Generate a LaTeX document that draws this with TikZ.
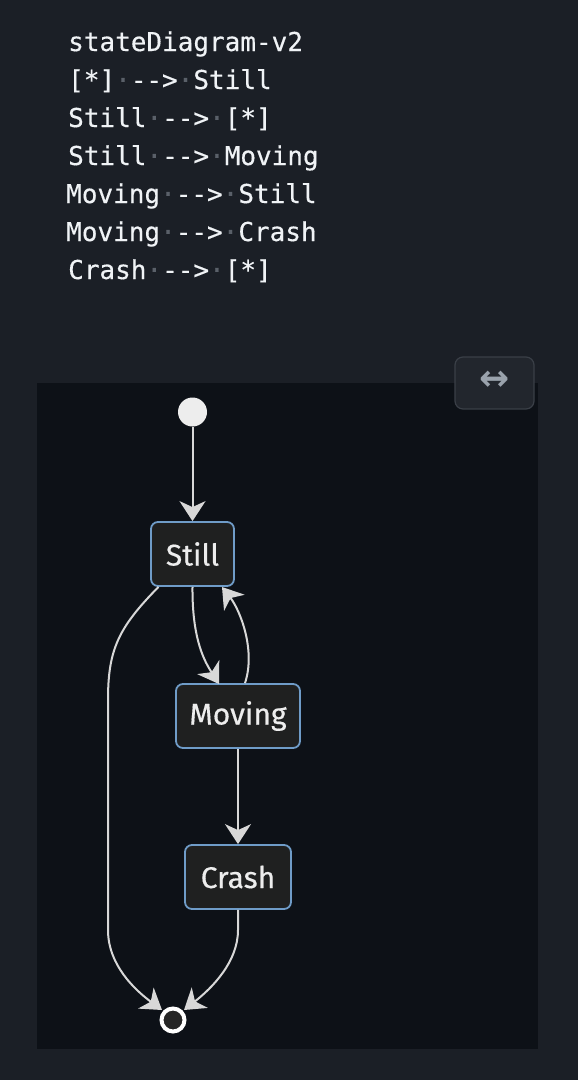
\documentclass[tikz,border=0pt]{standalone}
\usepackage{fontspec}
\usetikzlibrary{arrows.meta}
\newfontfamily\codefont[FakeBold=0.4]{DejaVu Sans Mono}
\newfontfamily\labelfont[FakeBold=0.4]{Fira Sans}
\newfontfamily\symfont{DejaVu Sans}
\definecolor{pagebg}{HTML}{1B1F26}
\definecolor{panelbg}{HTML}{0D1117}
\definecolor{btnbg}{HTML}{22262D}
\definecolor{btnline}{HTML}{3A3F47}
\definecolor{btnicon}{HTML}{9AA2AC}
\definecolor{codetxt}{HTML}{F0F3F6}
\definecolor{dotc}{HTML}{5A6069}
\definecolor{statefill}{HTML}{1F2020}
\definecolor{stateline}{HTML}{6F9CC8}
\definecolor{edgec}{HTML}{D8D8D8}
\definecolor{labeltxt}{HTML}{EDEDED}
\tikzset{
  codeline/.style={anchor=base west, inner sep=0pt, text=codetxt, font=\codefont\fontsize{26}{26}\selectfont},
  statebox/.style={draw=stateline, line width=1.8pt, fill=statefill, rounded corners=7pt, text=labeltxt, font=\labelfont\fontsize{30}{30}\selectfont, inner sep=0pt},
  edge/.style={draw=edgec, line width=2pt, -{Stealth[length=20pt,width=26pt,inset=6pt]}},
}
\newcommand{\wsdot}{\textcolor{dotc}{·}}
\begin{document}
\begin{tikzpicture}[x=1pt,y=-1pt]
\fill[pagebg] (0,0) rectangle (578,1080);
\useasboundingbox (0,0) rectangle (578,1080);
\fill[panelbg] (37,383) rectangle (538,1049);
% code
\node[codeline] (l1) at (68,51) {stateDiagram-v2};
\node[codeline] (l2) at (68,89) {[*]\wsdot-->\wsdot Still};
\node[codeline] (l3) at (68,127) {Still\wsdot-->\wsdot[*]};
\node[codeline] (l4) at (68,165) {Still\wsdot-->\wsdot Moving};
\node[codeline] (l5) at (66,203) {Moving\wsdot-->\wsdot Still};
\node[codeline] (l6) at (66,241) {Moving\wsdot-->\wsdot Crash};
\node[codeline] (l7) at (68,279) {Crash\wsdot-->\wsdot[*]};
% button
\draw[btnline, fill=btnbg, line width=1.2pt, rounded corners=8pt] (455,357) rectangle (534,409);
\node[text=btnicon, font=\symfont\bfseries\fontsize{36}{36}\selectfont, inner sep=0pt] (icon) at (494.5,381) {↔};
% states
\node[circle, fill=labeltxt, minimum size=29pt, inner sep=0pt] (start) at (192.5,412) {};
\node[statebox, minimum width=83pt, minimum height=64pt] (still) at (192.5,554) {Still};
\node[statebox, minimum width=124pt, minimum height=64pt] (moving) at (238,716) {Moving};
\node[statebox, minimum width=106pt, minimum height=64pt] (crash) at (238,877) {Crash};
\node[circle, draw=white, line width=4pt, fill=black!85!white, minimum size=23pt, inner sep=0pt] (stop) at (173,1020) {};
% edges
\draw[edge] (start) -- (still.north);
\draw[edge] ([xshift=-34pt]still.south) .. controls (118,628) and (108,650) .. (108,700) -- (108,930) .. controls (108,965) and (135,990) .. (162,1010);
\draw[edge] (still.south) .. controls (192,640) and (205,662) .. (219,684);
\draw[edge] ([xshift=7pt]moving.north) .. controls (256,650) and (240,610) .. (222,587);
\draw[edge] (moving.south) -- (crash.north);
\draw[edge] (crash.south) -- (238,930) .. controls (238,962) and (212,988) .. (184,1010);
\end{tikzpicture}
\end{document}
